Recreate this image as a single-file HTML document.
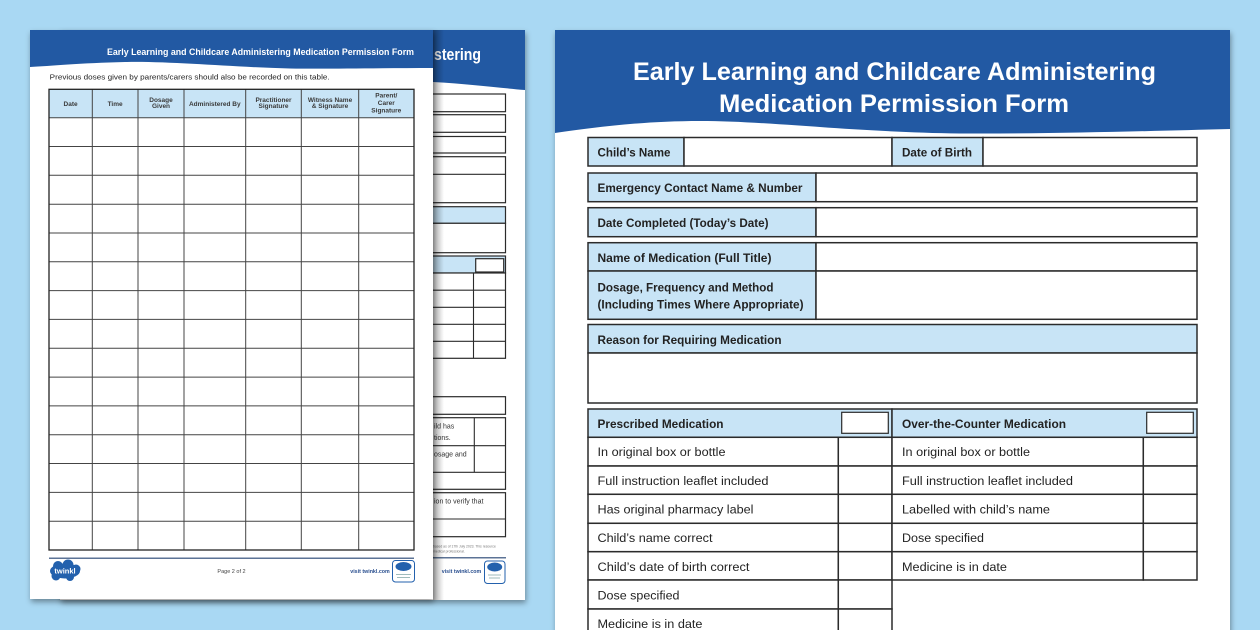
<!DOCTYPE html>
<html><head><meta charset="utf-8"><style>
html,body{margin:0;padding:0;background:#a9d8f3;overflow:hidden;}
svg{display:block}
text{font-family:"Liberation Sans",sans-serif;}
.b{font-weight:bold}
</style></head><body>
<svg width="1260" height="630" viewBox="0 0 1260 630" xmlns="http://www.w3.org/2000/svg">
<defs>
<filter id="sh" x="-10%" y="-10%" width="125%" height="125%">
<feDropShadow dx="1" dy="3" stdDeviation="3" flood-color="#000" flood-opacity="0.38"/>
</filter>
<linearGradient id="lg" x1="0" x2="1" y1="0" y2="0"><stop offset="0" stop-color="#000" stop-opacity="0.32"/><stop offset="1" stop-color="#000" stop-opacity="0"/></linearGradient>
</defs>
<rect width="1260" height="630" fill="#a9d8f3"/>

<!-- ============ MIDDLE PAGE ============ -->
<rect x="60" y="30" width="465" height="570" fill="#fff" filter="url(#sh)"/>
<path d="M60 30 H525 V90 C500 88 470 84 433 82 C300 76 150 80 60 85 Z" fill="#2259a3"/>
<text x="434" y="60" class="b" font-size="17" fill="#fff" textLength="47" lengthAdjust="spacingAndGlyphs">stering</text>
<g fill="#fff" stroke="#2b2b2b" stroke-width="1.2">
<rect x="400" y="94" width="105.5" height="17.7"/>
<rect x="400" y="114.7" width="105.5" height="17.6"/>
<rect x="400" y="136.5" width="105.5" height="16.5"/>
<rect x="400" y="156.7" width="105.5" height="46"/>
<rect x="400" y="206.7" width="105.5" height="16.6" fill="#c8e4f6"/>
<rect x="400" y="223.3" width="105.5" height="29.4"/>
<rect x="400" y="256" width="105.5" height="17" fill="#c8e4f6"/>
<rect x="475.7" y="258.7" width="28" height="13.3"/>
<rect x="400" y="273" width="105.5" height="85.3"/>
<rect x="400" y="396.7" width="105.5" height="17.6"/>
<rect x="400" y="417.7" width="105.5" height="71.6"/>
<rect x="400" y="492.7" width="105.5" height="44"/>
</g>
<g stroke="#2b2b2b" stroke-width="1.1">
<line x1="400" y1="174.3" x2="505.5" y2="174.3"/>
<line x1="400" y1="290.2" x2="505.5" y2="290.2"/>
<line x1="400" y1="307.3" x2="505.5" y2="307.3"/>
<line x1="400" y1="324.3" x2="505.5" y2="324.3"/>
<line x1="400" y1="341.3" x2="505.5" y2="341.3"/>
<line x1="473.5" y1="273" x2="473.5" y2="358.3"/>
<line x1="400" y1="445.7" x2="505.5" y2="445.7"/>
<line x1="400" y1="472.3" x2="505.5" y2="472.3"/>
<line x1="474.3" y1="417.7" x2="474.3" y2="472.3"/>
<line x1="400" y1="519" x2="505.5" y2="519"/>
</g>
<g font-size="7" fill="#333">
<text x="434" y="428.3">ild has</text>
<text x="434" y="440">tions.</text>
<text x="434" y="456.5">osage and</text>
<text x="434" y="503.5">ion to verify that</text>
</g>
<g font-size="3.4" fill="#777">
<text x="433" y="547.7">based as of 17th July 2023. This resource</text>
<text x="433" y="552.7">medical professional.</text>
</g>
<line x1="400" y1="557.7" x2="506" y2="557.7" stroke="#5c7396" stroke-width="1.5"/>
<text x="461.5" y="573" class="b" font-size="5.3" fill="#2a4f8f" text-anchor="middle">visit twinkl.com</text>
<rect x="484.5" y="561" width="20.5" height="22.5" rx="3" fill="#fff" stroke="#2361ad" stroke-width="1"/>
<ellipse cx="494.7" cy="567" rx="7.5" ry="4.5" fill="#2361ad"/>
<line x1="488" y1="575" x2="501" y2="575" stroke="#8aa" stroke-width="0.8"/>
<line x1="489" y1="578" x2="500" y2="578" stroke="#8aa" stroke-width="0.8"/>
<rect x="433" y="30" width="11" height="570" fill="url(#lg)"/>

<!-- ============ LEFT PAGE ============ -->
<rect x="30" y="30" width="403" height="569" fill="#fff" filter="url(#sh)"/>
<path d="M30 30 H433 V68 C380 68 330 69 290 68.5 C230 67 170 61 125 62 C80 63 50 66 30 67 Z" fill="#2259a3"/>
<text x="107" y="55" class="b" font-size="9.3" fill="#fff" textLength="307" lengthAdjust="spacingAndGlyphs">Early Learning and Childcare Administering Medication Permission Form</text>
<text x="49.7" y="79.3" font-size="7" fill="#222" textLength="280" lengthAdjust="spacingAndGlyphs">Previous doses given by parents/carers should also be recorded on this table.</text>
<rect x="49" y="89.3" width="365" height="28.4" fill="#c8e4f6"/>
<g stroke="#444" stroke-width="1">
<line x1="92.3" y1="89.3" x2="92.3" y2="550"/>
<line x1="138" y1="89.3" x2="138" y2="550"/>
<line x1="184" y1="89.3" x2="184" y2="550"/>
<line x1="245.7" y1="89.3" x2="245.7" y2="550"/>
<line x1="301.3" y1="89.3" x2="301.3" y2="550"/>
<line x1="358.7" y1="89.3" x2="358.7" y2="550"/>
<line x1="49" y1="117.7" x2="414" y2="117.7"/>
<line x1="49" y1="146.5" x2="414" y2="146.5"/>
<line x1="49" y1="175.3" x2="414" y2="175.3"/>
<line x1="49" y1="204.2" x2="414" y2="204.2"/>
<line x1="49" y1="233" x2="414" y2="233"/>
<line x1="49" y1="261.8" x2="414" y2="261.8"/>
<line x1="49" y1="290.6" x2="414" y2="290.6"/>
<line x1="49" y1="319.4" x2="414" y2="319.4"/>
<line x1="49" y1="348.3" x2="414" y2="348.3"/>
<line x1="49" y1="377.1" x2="414" y2="377.1"/>
<line x1="49" y1="405.9" x2="414" y2="405.9"/>
<line x1="49" y1="434.7" x2="414" y2="434.7"/>
<line x1="49" y1="463.5" x2="414" y2="463.5"/>
<line x1="49" y1="492.4" x2="414" y2="492.4"/>
<line x1="49" y1="521.2" x2="414" y2="521.2"/>
</g>
<rect x="49" y="89.3" width="365" height="460.7" fill="none" stroke="#222" stroke-width="1.3"/>
<g class="b" font-size="6.5" fill="#3a3a3a" text-anchor="middle">
<text x="70.6" y="106">Date</text>
<text x="115.1" y="106">Time</text>
<text x="161" y="102">Dosage</text>
<text x="161" y="108">Given</text>
<text x="214.8" y="106">Administered By</text>
<text x="273.5" y="102">Practitioner</text>
<text x="273.5" y="108">Signature</text>
<text x="330" y="102">Witness Name</text>
<text x="330" y="108">&amp; Signature</text>
<text x="386.3" y="97.5">Parent/</text>
<text x="386.3" y="105">Carer</text>
<text x="386.3" y="112.5">Signature</text>
</g>
<line x1="49" y1="558.3" x2="414" y2="558.3" stroke="#5c7396" stroke-width="1.5"/>
<g fill="#2361ad">
<ellipse cx="65" cy="571" rx="15" ry="7.5"/>
<circle cx="58" cy="566" r="5"/>
<circle cx="68" cy="565" r="5.5"/>
<circle cx="76" cy="569" r="4.5"/>
<circle cx="56" cy="576" r="4.5"/>
<circle cx="70" cy="577" r="4"/>
</g>
<text x="65" y="573.5" class="b" font-size="7.5" fill="#fff" text-anchor="middle">twinkl</text>
<text x="231.5" y="573" font-size="5.5" fill="#444" text-anchor="middle">Page 2 of 2</text>
<text x="370" y="573" class="b" font-size="5.3" fill="#2a4f8f" text-anchor="middle">visit twinkl.com</text>
<rect x="392.5" y="560.5" width="22" height="21.5" rx="3" fill="#fff" stroke="#2361ad" stroke-width="1"/>
<ellipse cx="403.5" cy="566.5" rx="8" ry="4.5" fill="#2361ad"/>
<line x1="396" y1="574.5" x2="411" y2="574.5" stroke="#8aa" stroke-width="0.8"/>
<line x1="397" y1="577.5" x2="410" y2="577.5" stroke="#8aa" stroke-width="0.8"/>

<!-- ============ RIGHT PAGE ============ -->
<rect x="555" y="30" width="675" height="630" fill="#fff" filter="url(#sh)"/>
<path d="M555 30 H1230 V129 C1150 131 1050 134 960 133.5 C850 132 770 121 700 121 C640 121 590 128 555 133 Z" fill="#2259a3"/>
<text x="633" y="80" class="b" font-size="25" fill="#fff" textLength="523" lengthAdjust="spacingAndGlyphs">Early Learning and Childcare Administering</text>
<text x="719" y="112" class="b" font-size="25" fill="#fff" textLength="350" lengthAdjust="spacingAndGlyphs">Medication Permission Form</text>

<g stroke="#2b2b2b" stroke-width="1.5">
<rect x="588" y="137.5" width="96" height="28.5" fill="#c8e4f6"/>
<rect x="684" y="137.5" width="208" height="28.5" fill="#fff"/>
<rect x="892" y="137.5" width="91" height="28.5" fill="#c8e4f6"/>
<rect x="983" y="137.5" width="214" height="28.5" fill="#fff"/>

<rect x="588" y="173" width="228" height="28.7" fill="#c8e4f6"/>
<rect x="816" y="173" width="381" height="28.7" fill="#fff"/>

<rect x="588" y="207.7" width="228" height="29" fill="#c8e4f6"/>
<rect x="816" y="207.7" width="381" height="29" fill="#fff"/>

<rect x="588" y="242.7" width="228" height="28.3" fill="#c8e4f6"/>
<rect x="816" y="242.7" width="381" height="28.3" fill="#fff"/>
<rect x="588" y="271" width="228" height="48.3" fill="#c8e4f6"/>
<rect x="816" y="271" width="381" height="48.3" fill="#fff"/>

<rect x="588" y="324.5" width="609" height="28.5" fill="#c8e4f6"/>
<rect x="588" y="353" width="609" height="50" fill="#fff"/>

<rect x="588" y="409" width="304" height="28.3" fill="#c8e4f6"/>
<rect x="892" y="409" width="305" height="28.3" fill="#c8e4f6"/>

<rect x="588" y="437.3" width="250.3" height="28.7" fill="#fff"/>
<rect x="838.3" y="437.3" width="53.7" height="28.7" fill="#fff"/>
<rect x="588" y="466" width="250.3" height="28.3" fill="#fff"/>
<rect x="838.3" y="466" width="53.7" height="28.3" fill="#fff"/>
<rect x="588" y="494.3" width="250.3" height="29" fill="#fff"/>
<rect x="838.3" y="494.3" width="53.7" height="29" fill="#fff"/>
<rect x="588" y="523.3" width="250.3" height="28.4" fill="#fff"/>
<rect x="838.3" y="523.3" width="53.7" height="28.4" fill="#fff"/>
<rect x="588" y="551.7" width="250.3" height="28.3" fill="#fff"/>
<rect x="838.3" y="551.7" width="53.7" height="28.3" fill="#fff"/>
<rect x="588" y="580" width="250.3" height="29" fill="#fff"/>
<rect x="838.3" y="580" width="53.7" height="29" fill="#fff"/>
<rect x="588" y="609" width="250.3" height="29" fill="#fff"/>
<rect x="838.3" y="609" width="53.7" height="29" fill="#fff"/>

<rect x="892" y="437.3" width="251.3" height="28.7" fill="#fff"/>
<rect x="1143.3" y="437.3" width="53.7" height="28.7" fill="#fff"/>
<rect x="892" y="466" width="251.3" height="28.3" fill="#fff"/>
<rect x="1143.3" y="466" width="53.7" height="28.3" fill="#fff"/>
<rect x="892" y="494.3" width="251.3" height="29" fill="#fff"/>
<rect x="1143.3" y="494.3" width="53.7" height="29" fill="#fff"/>
<rect x="892" y="523.3" width="251.3" height="28.4" fill="#fff"/>
<rect x="1143.3" y="523.3" width="53.7" height="28.4" fill="#fff"/>
<rect x="892" y="551.7" width="251.3" height="28.3" fill="#fff"/>
<rect x="1143.3" y="551.7" width="53.7" height="28.3" fill="#fff"/>
</g>
<g stroke="#2b2b2b" stroke-width="1.2" fill="#fff">
<rect x="841.7" y="412.3" width="46.6" height="21"/>
<rect x="1146.7" y="412.3" width="46.6" height="21"/>
</g>

<g class="b" font-size="12" fill="#222">
<text x="597.5" y="156.5" textLength="73" lengthAdjust="spacingAndGlyphs">Child’s Name</text>
<text x="902" y="156.5" textLength="70" lengthAdjust="spacingAndGlyphs">Date of Birth</text>
<text x="597.5" y="192" textLength="205" lengthAdjust="spacingAndGlyphs">Emergency Contact Name &amp; Number</text>
<text x="597.5" y="227" textLength="171" lengthAdjust="spacingAndGlyphs">Date Completed (Today’s Date)</text>
<text x="597.5" y="262" textLength="174" lengthAdjust="spacingAndGlyphs">Name of Medication (Full Title)</text>
<text x="597.5" y="291.5" textLength="176" lengthAdjust="spacingAndGlyphs">Dosage, Frequency and Method</text>
<text x="597.5" y="308.5" textLength="206" lengthAdjust="spacingAndGlyphs">(Including Times Where Appropriate)</text>
<text x="597.5" y="344" textLength="184" lengthAdjust="spacingAndGlyphs">Reason for Requiring Medication</text>
<text x="597.5" y="428" textLength="126" lengthAdjust="spacingAndGlyphs">Prescribed Medication</text>
<text x="902" y="428" textLength="164" lengthAdjust="spacingAndGlyphs">Over-the-Counter Medication</text>
</g>
<g font-size="12.3" fill="#222">
<text x="597.5" y="456" textLength="128" lengthAdjust="spacingAndGlyphs">In original box or bottle</text>
<text x="597.5" y="485" textLength="171" lengthAdjust="spacingAndGlyphs">Full instruction leaflet included</text>
<text x="597.5" y="513.5" textLength="156" lengthAdjust="spacingAndGlyphs">Has original pharmacy label</text>
<text x="597.5" y="542" textLength="115" lengthAdjust="spacingAndGlyphs">Child’s name correct</text>
<text x="597.5" y="571" textLength="152" lengthAdjust="spacingAndGlyphs">Child’s date of birth correct</text>
<text x="597.5" y="599.5" textLength="82" lengthAdjust="spacingAndGlyphs">Dose specified</text>
<text x="597.5" y="628" textLength="105" lengthAdjust="spacingAndGlyphs">Medicine is in date</text>
<text x="902" y="456" textLength="128" lengthAdjust="spacingAndGlyphs">In original box or bottle</text>
<text x="902" y="485" textLength="171" lengthAdjust="spacingAndGlyphs">Full instruction leaflet included</text>
<text x="902" y="513.5" textLength="148" lengthAdjust="spacingAndGlyphs">Labelled with child’s name</text>
<text x="902" y="542" textLength="82" lengthAdjust="spacingAndGlyphs">Dose specified</text>
<text x="902" y="571" textLength="105" lengthAdjust="spacingAndGlyphs">Medicine is in date</text>
</g>
</svg>
</body></html>
